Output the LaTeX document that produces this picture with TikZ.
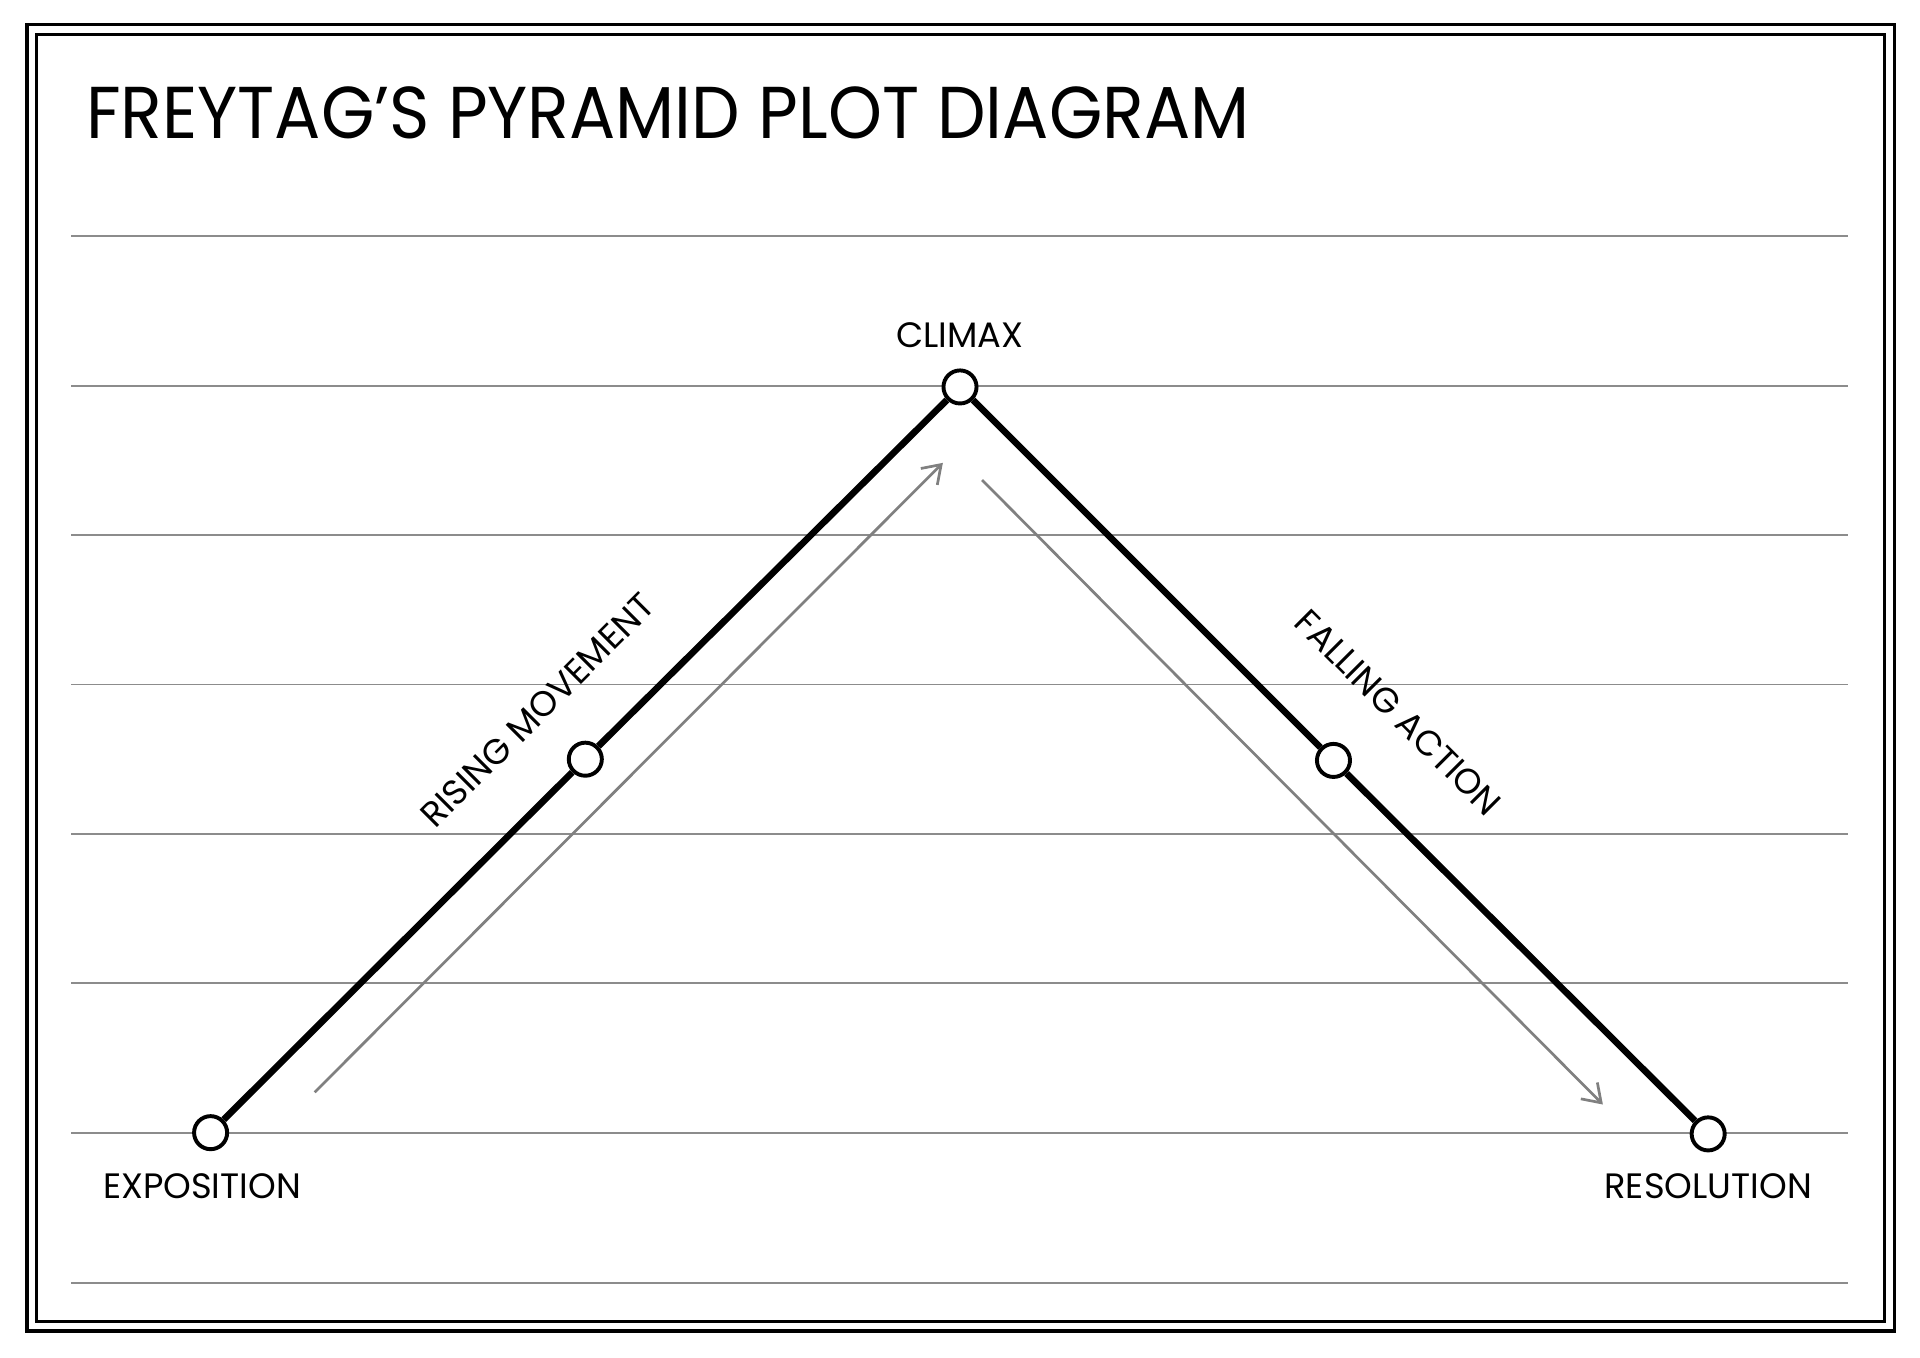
\documentclass[tikz,border=0pt]{standalone}
\usepackage{fontspec}
\setmainfont{Poppins}
\newfontfamily\titlefont[FakeStretch=0.934]{Poppins}
\usetikzlibrary{arrows.meta}
\tikzset{
  frameline/.style={line width=1.4pt, black},
  guide/.style={line width=0.8pt, draw=black!45},
  plotline/.style={line width=2.7pt, black},
  pt/.style={circle, draw=black, fill=white, line width=1.6pt, minimum size=13.5pt, inner sep=0pt},
  flow/.style={line width=1.1pt, draw=black!50, -{Straight Barb[length=7pt,width=9.5pt,line width=1.1pt]}},
  lbl/.style={font=\fontsize{14.4}{16}\selectfont, inner sep=0pt},
}
\begin{document}
\begin{tikzpicture}[x=0.5pt,y=-0.5pt]
\useasboundingbox (0,0) rectangle (1568,1109);
\fill[white] (0,0) rectangle (1568,1109);
\draw[frameline] (22,20) rectangle (1547,1087);
\draw[frameline] (30,28) rectangle (1539,1079);
\node[anchor=base west, inner sep=0pt, font=\titlefont\fontsize{30}{34}\selectfont] (title) at (70,113) {FREYTAG’S PYRAMID PLOT DIAGRAM};
\foreach \y in {193,315,437,559,681,803,925,1048} {
  \draw[guide] (58,\y) -- (1509,\y);
}
\node[pt] (expo) at (172,925) {};
\node[pt] (rise) at (478,620) {};
\node[pt] (clim) at (784,316) {};
\node[pt] (fall) at (1089,621) {};
\node[pt] (reso) at (1395,926) {};
\draw[plotline] (expo) -- (rise);
\draw[plotline] (rise) -- (clim);
\draw[plotline] (clim) -- (fall);
\draw[plotline] (fall) -- (reso);
\coordinate (a1s) at (257,892);
\coordinate (a1e) at (770,378);
\coordinate (a2s) at (802,392);
\coordinate (a2e) at (1309,902);
\draw[flow] (a1s) -- (a1e);
\draw[flow] (a2s) -- (a2e);
\node[lbl, anchor=base] (lclim) at (784,284) {CLIMAX};
\node[lbl, anchor=base] (lexpo) at (165,979) {EXPOSITION};
\node[lbl, anchor=base] (lreso) at (1395,979) {RESOLUTION};
\node[lbl, rotate=45] (lrise) at (439,580) {RISING MOVEMENT};
\node[lbl, rotate=-45] (lfall) at (1142,582) {FALLING ACTION};
\end{tikzpicture}
\end{document}
